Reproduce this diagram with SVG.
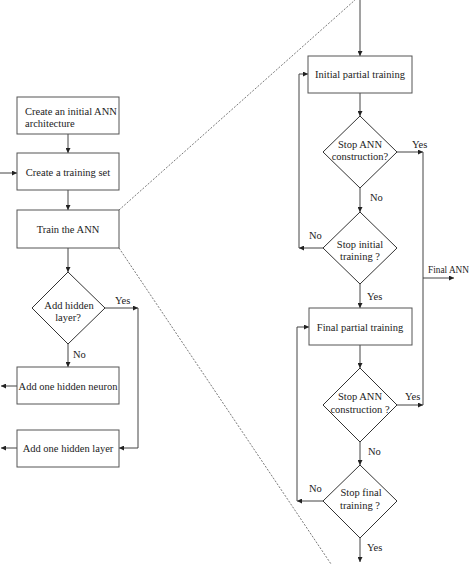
<svg xmlns="http://www.w3.org/2000/svg" width="474" height="564" viewBox="0 0 474 564">
<defs>
<marker id="ah" viewBox="0 0 6 6" refX="6" refY="3" markerWidth="5" markerHeight="5" markerUnits="userSpaceOnUse" orient="auto">
<path d="M0,0 L6,3 L0,6 Z" fill="#222"/>
</marker>
</defs>
<style>
.box{fill:#fff;stroke:#555;stroke-width:1}
.dia{fill:#fff;stroke:#333;stroke-width:1}
.ln{fill:none;stroke:#444;stroke-width:1}
.ar{fill:none;stroke:#444;stroke-width:1;marker-end:url(#ah)}
.dash{fill:none;stroke:#555;stroke-width:0.8;stroke-dasharray:2,1.5}
text{font-family:"Liberation Serif","Times New Roman",serif;font-size:10.5px;fill:#222}
.c{text-anchor:middle}
</style>
<rect width="474" height="564" fill="#fff"/>
<g id="connectors">
<line class="dash" x1="119" y1="210" x2="355" y2="0"/>
<line class="dash" x1="119" y1="248" x2="331" y2="564"/>
<line class="ar" x1="68" y1="134" x2="68" y2="153"/>
<line class="ar" x1="0" y1="173" x2="17" y2="173"/>
<line class="ar" x1="68" y1="190" x2="68" y2="210"/>
<line class="ar" x1="68" y1="248" x2="68" y2="272"/>
<line class="ar" x1="105" y1="308" x2="138" y2="308"/>
<polyline class="ar" points="138,308 138,448 119,448"/>
<line class="ar" x1="68" y1="344" x2="68" y2="367"/>
<line class="ar" x1="17" y1="386" x2="1" y2="386"/>
<line class="ar" x1="17" y1="448" x2="1" y2="448"/>
<line class="ar" x1="360" y1="0" x2="360" y2="56"/>
<line class="ar" x1="360" y1="93" x2="360" y2="116"/>
<line class="ar" x1="397" y1="152" x2="423" y2="152"/>
<line class="ln" x1="423" y1="152" x2="423" y2="405"/>
<line class="ar" x1="423" y1="278" x2="454" y2="278"/>
<line class="ar" x1="360" y1="188" x2="360" y2="212"/>
<line class="ar" x1="323" y1="248" x2="299" y2="248"/>
<polyline class="ar" points="299,248 299,74 308,74"/>
<line class="ar" x1="360" y1="284" x2="360" y2="308"/>
<line class="ar" x1="360" y1="345" x2="360" y2="368"/>
<line class="ar" x1="397" y1="405" x2="423" y2="405"/>
<line class="ar" x1="360" y1="442" x2="360" y2="465"/>
<line class="ar" x1="323" y1="501" x2="297" y2="501"/>
<polyline class="ar" points="297,501 297,327 309,327"/>
<line class="ar" x1="360" y1="538" x2="360" y2="562"/>
</g>
<g id="labels">
<text x="115" y="304">Yes</text>
<text x="73" y="358">No</text>
<text x="412" y="148">Yes</text>
<text x="370" y="201">No</text>
<text x="309" y="239">No</text>
<text x="367" y="300">Yes</text>
<text x="428" y="273" textLength="41" lengthAdjust="spacingAndGlyphs">Final ANN</text>
<text x="405" y="400">Yes</text>
<text x="368" y="455">No</text>
<text x="309" y="492">No</text>
<text x="367" y="551">Yes</text>
</g>
<g id="n1"><rect class="box" x="17" y="97" width="102" height="37"/>
<text x="25" y="115">Create an initial ANN</text><text x="25" y="127">architecture</text></g>
<g id="n2"><rect class="box" x="17" y="153" width="102" height="37"/>
<text class="c" x="68" y="176">Create a training set</text></g>
<g id="n3"><rect class="box" x="17" y="210" width="102" height="38"/>
<text class="c" x="68" y="233">Train the ANN</text></g>
<g id="n4"><polygon class="dia" points="68,272 105,308 68,344 32,308"/>
<text class="c" x="69" y="309">Add hidden</text><text class="c" x="68" y="321">layer?</text></g>
<g id="n5"><rect class="box" x="17" y="367" width="102" height="37"/>
<text class="c" x="68" y="390">Add one hidden neuron</text></g>
<g id="n6"><rect class="box" x="17" y="430" width="102" height="37"/>
<text class="c" x="68" y="452">Add one hidden layer</text></g>
<g id="n7"><rect class="box" x="308" y="56" width="104" height="37"/>
<text class="c" x="360" y="78">Initial partial training</text></g>
<g id="n8"><polygon class="dia" points="360,116 397,152 360,188 323,152"/>
<text class="c" x="360" y="148">Stop ANN</text><text class="c" x="360" y="160">construction?</text></g>
<g id="n9"><polygon class="dia" points="360,212 397,248 360,284 323,248"/>
<text class="c" x="360" y="248">Stop  initial</text><text class="c" x="360" y="260">training ?</text></g>
<g id="n10"><rect class="box" x="309" y="308" width="103" height="37"/>
<text class="c" x="360" y="331">Final partial training</text></g>
<g id="n11"><polygon class="dia" points="360,368 397,405 360,442 323,405"/>
<text class="c" x="360" y="400">Stop ANN</text><text class="c" x="360" y="413">construction ?</text></g>
<g id="n12"><polygon class="dia" points="360,465 397,501 360,538 323,501"/>
<text class="c" x="361" y="496">Stop final</text><text class="c" x="360" y="509">training ?</text></g>
</svg>
